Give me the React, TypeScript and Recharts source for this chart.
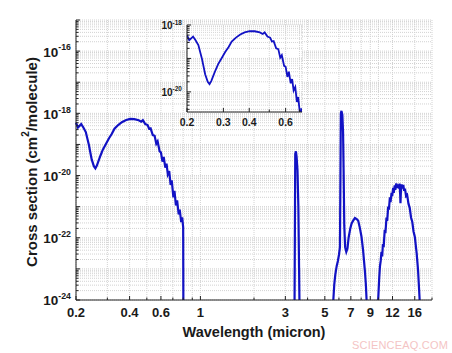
import React from "react";
import { CartesianGrid, Label, Line, LineChart, XAxis, YAxis } from "recharts";

// wavelength (micron) and absorption cross section (cm^2/molecule)
const wavelength = [
  0.2, 0.205, 0.214, 0.22, 0.227, 0.236, 0.245, 0.252, 0.257, 0.262, 0.268, 0.275, 0.283, 0.295, 0.306,
  0.318, 0.329, 0.345, 0.362, 0.38, 0.402, 0.425, 0.45, 0.465, 0.475, 0.49, 0.505, 0.515, 0.525, 0.54,
  0.553, 0.565, 0.575, 0.59, 0.6, 0.612, 0.622, 0.635, 0.645, 0.656, 0.668, 0.68, 0.69, 0.705, 0.715,
  0.728, 0.74, 0.755, 0.765, 0.78, 0.79, 0.8, 0.802,
  2,
  3.38, 3.41, 3.44, 3.47, 3.51, 3.55, 3.6,
  4.5,
  5.58, 5.65, 5.72, 5.83, 5.92, 6.0, 6.08, 6.12, 6.15, 6.2, 6.27, 6.33, 6.38, 6.43, 6.5, 6.6, 6.7, 6.8,
  6.95, 7.07, 7.2, 7.38, 7.55, 7.7, 7.85, 8.03, 8.2, 8.39, 8.5, 8.58,
  9.3,
  9.97, 10.1, 10.2, 10.3, 10.4, 10.5, 10.6, 10.7, 10.85, 10.95, 11.1, 11.2, 11.35, 11.45, 11.6, 11.7,
  11.85, 11.95, 12.1, 12.2, 12.35, 12.45, 12.6, 12.75, 12.9, 13.05, 13.15, 13.25, 13.3, 13.38, 13.5,
  13.65, 13.8, 13.95, 14.1, 14.3, 14.5, 14.75, 15.0, 15.25, 15.5, 15.75, 16.0, 16.4, 16.7, 17.05,
];

const crossSection: (number | null)[] = [
  5.0e-19, 3.5e-19, 4.5e-19, 3.5e-19, 2.5e-19, 1.0e-19, 3.3e-20, 2.0e-20, 1.7e-20, 2.1e-20, 3.0e-20,
  4.5e-20, 6.8e-20, 1.05e-19, 1.55e-19, 2.2e-19, 3.2e-19, 4.2e-19, 5.2e-19, 6.0e-19, 6.6e-19, 6.5e-19,
  6.0e-19, 5.4e-19, 6.0e-19, 4.5e-19, 4.2e-19, 3.2e-19, 3.3e-19, 2.0e-19, 1.9e-19, 1.05e-19, 1.25e-19,
  6.0e-20, 5.6e-20, 2.8e-20, 4.0e-20, 1.8e-20, 2.4e-20, 1.1e-20, 1.4e-20, 5.0e-21, 7.0e-21, 2.0e-21,
  3.2e-21, 1.1e-21, 1.6e-21, 5.6e-22, 8.0e-22, 3.2e-22, 4.5e-22, 2.2e-22, 1e-24,
  null,
  1e-24, 5e-20, 6e-20, 4e-20, 1.5e-20, 1e-21, 1e-24,
  null,
  1e-24, 3.2e-24, 6.3e-24, 1.25e-23, 1.8e-23, 2.8e-23, 5e-23, 1e-20, 1e-18, 1.2e-18, 9e-19, 2.5e-19,
  1e-20, 2.5e-22, 5e-23, 3.5e-23, 4.5e-23, 1e-22, 2e-22, 2.9e-22, 3.5e-22, 4.3e-22, 4e-22, 3.5e-22,
  2.2e-22, 1.1e-22, 4e-23, 9e-24, 3.2e-24, 1e-24,
  null,
  1e-24, 5e-24, 1.2e-23, 1.8e-23, 3.5e-23, 2.5e-23, 6.3e-23, 5e-23, 1.8e-22, 1.4e-22, 4.5e-22, 3.5e-22,
  1e-21, 8e-22, 2e-21, 1.4e-21, 2.8e-21, 2.2e-21, 4e-21, 2.8e-21, 4.8e-21, 3.5e-21, 5.6e-21, 4e-21,
  5.2e-21, 3.8e-21, 5.5e-21, 2.5e-21, 1.3e-21, 3.2e-21, 5.2e-21, 3.8e-21, 5e-21, 3.2e-21, 3.8e-21,
  2.2e-21, 2.4e-21, 1.25e-21, 9e-22, 4.5e-22, 3.2e-22, 1.6e-22, 1.1e-22, 3.2e-23, 9e-24, 1e-24,
];

const xTicks = [0.2, 0.3, 0.4, 0.5, 0.6, 0.7, 0.8, 0.9, 1, 2, 3, 4, 5, 6, 7, 8, 9, 10, 12, 16, 20];
const xLabels = [0.2, 0.4, 0.6, 1, 3, 5, 7, 9, 12, 16];
const yDecades = [-24, -23, -22, -21, -20, -19, -18, -17, -16];
const yLabelExps = [-24, -22, -20, -18, -16];

const insetXTicks = [0.2, 0.3, 0.4, 0.5, 0.6, 0.7];
const insetXLabels = [0.2, 0.3, 0.4, 0.6];
const insetYDecades = [-21, -20, -19];
const insetYLabelExps = [-20, -18];

const data = wavelength.map((w, i) => ({ w, s: crossSection[i] }));

const minorTicks = (decades: number[], last: number) => {
  const out: number[] = [];
  decades.forEach((e) => {
    for (let m = 1; m <= 9; m++) out.push(m * Math.pow(10, e));
  });
  out.push(last);
  return out;
};
const yTicks = minorTicks(yDecades, 1e-15);
const insetYTicks = minorTicks(insetYDecades, 1e-18).filter((v) => v >= 2.5e-21);

const FONT = "'Liberation Sans', Arial, sans-serif";
const BLUE = "#1212c4";
const INK = "#1a1a1a";

const expOf = (v: number) => {
  const e = Math.log10(v);
  return Math.abs(e - Math.round(e)) < 1e-6 ? Math.round(e) : null;
};

const makeXTick = (labels: number[], side: "bottom" | "top", fs: number) => (props: any) => {
  const { x, y, payload } = props;
  const v = payload.value;
  const major = labels.includes(v);
  const len = major ? 4 : 2.5;
  const dir = side === "bottom" ? -1 : 1;
  return (
    <g>
      <line x1={x} x2={x} y1={y} y2={y + dir * len} stroke="#222" strokeWidth={1} />
      {side === "bottom" && major && (
        <text x={x} y={y + fs * 1.3} textAnchor="middle" fontFamily={FONT} fontWeight="bold" fontSize={fs} fill={INK}>
          {v}
        </text>
      )}
    </g>
  );
};

const makeYTick = (labelExps: number[], side: "left" | "right", fs: number) => (props: any) => {
  const { x, y, payload } = props;
  const e = expOf(payload.value);
  const major = e !== null;
  const len = major ? 4 : 2.5;
  const dir = side === "left" ? 1 : -1;
  return (
    <g>
      <line x1={x} x2={x + dir * len} y1={y} y2={y} stroke="#222" strokeWidth={1} />
      {side === "left" && e !== null && labelExps.includes(e) && (
        <text x={x - 5} y={y + fs * 0.4} textAnchor="end" fontFamily={FONT} fontWeight="bold" fontSize={fs} fill={INK}>
          10
          <tspan dy={-fs * 0.45} fontSize={fs * 0.65}>
            {e}
          </tspan>
        </text>
      )}
    </g>
  );
};

const YTitle = (props: any) => {
  const vb = props.viewBox || { x: 0, y: 20, width: 76, height: 280 };
  const cx = vb.x + 31;
  const cy = vb.y + vb.height / 2 + 2;
  return (
    <text
      x={cx}
      y={cy}
      transform={`rotate(-90 ${cx} ${cy})`}
      textAnchor="middle"
      dominantBaseline="central"
      fontFamily={FONT}
      fontWeight="bold"
      fontSize={15}
      fill={INK}
    >
      Cross section (cm
      <tspan dy={-6} fontSize={10}>
        2
      </tspan>
      <tspan dy={6}>/molecule)</tspan>
    </text>
  );
};

const XTitle = (props: any) => {
  const vb = props.viewBox || { x: 76, y: 300, width: 356, height: 53 };
  return (
    <text x={vb.x + vb.width / 2} y={vb.y + 37} textAnchor="middle" fontFamily={FONT} fontWeight="bold" fontSize={14.5} fill={INK}>
      Wavelength (micron)
    </text>
  );
};

const MainChart = () => (
  <LineChart width={452} height={353} data={data} margin={{ top: 20, right: 20, left: 0, bottom: 0 }}>
    <CartesianGrid stroke="#d2d2d2" strokeDasharray="1 1" />
    <XAxis
      dataKey="w"
      type="number"
      scale="log"
      domain={[0.2, 20]}
      ticks={xTicks}
      interval={0}
      height={53}
      tickSize={0}
      tickMargin={0}
      tickLine={false}
      axisLine={{ stroke: "#222" }}
      tick={makeXTick(xLabels, "bottom", 13)}
    >
      <Label content={XTitle} />
    </XAxis>
    <XAxis
      xAxisId="top"
      orientation="top"
      dataKey="w"
      type="number"
      scale="log"
      domain={[0.2, 20]}
      ticks={xTicks}
      interval={0}
      height={0}
      tickSize={0}
      tickMargin={0}
      tickLine={false}
      axisLine={{ stroke: "#222" }}
      tick={makeXTick(xLabels, "top", 13)}
    />
    <YAxis
      type="number"
      scale="log"
      domain={[1e-24, 1e-15]}
      ticks={yTicks}
      interval={0}
      width={76}
      tickSize={0}
      tickMargin={0}
      tickLine={false}
      axisLine={{ stroke: "#222" }}
      tick={makeYTick(yLabelExps, "left", 13.5)}
    >
      <Label content={YTitle} />
    </YAxis>
    <YAxis
      yAxisId="right"
      orientation="right"
      type="number"
      scale="log"
      domain={[1e-24, 1e-15]}
      ticks={yTicks}
      interval={0}
      width={0}
      tickSize={0}
      tickMargin={0}
      tickLine={false}
      axisLine={{ stroke: "#222" }}
      tick={makeYTick(yLabelExps, "right", 13.5)}
    />
    <Line
      dataKey="s"
      type="linear"
      stroke={BLUE}
      strokeWidth={2.2}
      dot={false}
      connectNulls={false}
      isAnimationActive={false}
    />
  </LineChart>
);

const InsetChart = () => (
  <LineChart width={160} height={125} data={data} margin={{ top: 15, right: 8, left: 0, bottom: 0 }}>
    <CartesianGrid stroke="#d6d6d6" strokeDasharray="1 1" fill="#ffffff" fillOpacity={1} />
    <XAxis
      dataKey="w"
      type="number"
      scale="log"
      domain={[0.2, 0.72]}
      allowDataOverflow
      ticks={insetXTicks}
      interval={0}
      height={23}
      tickSize={0}
      tickMargin={0}
      tickLine={false}
      axisLine={{ stroke: "#222" }}
      tick={makeXTick(insetXLabels, "bottom", 10.5)}
    />
    <XAxis
      xAxisId="top"
      orientation="top"
      dataKey="w"
      type="number"
      scale="log"
      domain={[0.2, 0.72]}
      allowDataOverflow
      ticks={insetXTicks}
      interval={0}
      height={0}
      tickSize={0}
      tickMargin={0}
      tickLine={false}
      axisLine={{ stroke: "#222" }}
      tick={makeXTick(insetXLabels, "top", 10.5)}
    />
    <YAxis
      type="number"
      scale="log"
      domain={[2.5e-21, 1e-18]}
      allowDataOverflow
      ticks={insetYTicks}
      interval={0}
      width={37}
      tickSize={0}
      tickMargin={0}
      tickLine={false}
      axisLine={{ stroke: "#222" }}
      tick={makeYTick(insetYLabelExps, "left", 10)}
    />
    <YAxis
      yAxisId="right"
      orientation="right"
      type="number"
      scale="log"
      domain={[2.5e-21, 1e-18]}
      allowDataOverflow
      ticks={insetYTicks}
      interval={0}
      width={0}
      tickSize={0}
      tickMargin={0}
      tickLine={false}
      axisLine={{ stroke: "#222" }}
      tick={makeYTick(insetYLabelExps, "right", 10)}
    />
    <Line
      dataKey="s"
      type="linear"
      stroke={BLUE}
      strokeWidth={1.8}
      dot={false}
      connectNulls={false}
      isAnimationActive={false}
    />
  </LineChart>
);

export default function App() {
  return (
    <div style={{ position: "absolute", left: 0, top: 0, width: 452, height: 353, background: "#fff" }}>
      <MainChart />
      <div style={{ position: "absolute", left: 150, top: 10 }}>
        <InsetChart />
      </div>
      <div
        style={{
          position: "absolute",
          left: 352,
          top: 339,
          fontFamily: FONT,
          fontSize: 11,
          color: "#f4c4c4",
          letterSpacing: 0.2,
        }}
      >
        SCIENCEAQ.COM
      </div>
    </div>
  );
}
